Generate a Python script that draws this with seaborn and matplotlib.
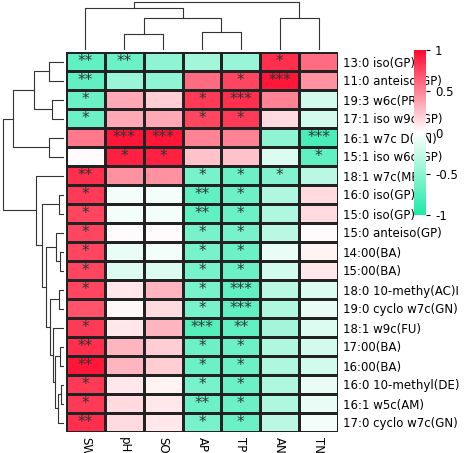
import numpy as np
import pandas as pd
import matplotlib
matplotlib.use("Agg")
import matplotlib.pyplot as plt
import seaborn as sns
from matplotlib.colors import LinearSegmentedColormap

rows = ["13:0 iso(GP)", "11:0 anteiso(GP)", "19:3 w6c(PR)", "17:1 iso w9c(GP)",
        "16:1 w7c D(GN)", "15:1 iso w6c(GP)", "18:1 w7c(ME)", "16:0 iso(GP)",
        "15:0 iso(GP)", "15:0 anteiso(GP)", "14:00(BA)", "15:00(BA)",
        "18:0 10-methy(AC)I", "19:0 cyclo w7c(GN)", "18:1 w9c(FU)", "17:00(BA)",
        "16:00(BA)", "16:0 10-methyl(DE)", "16:1 w5c(AM)", "17:0 cyclo w7c(GN)"]
cols = ["SWC", "pH", "SOC", "AP", "TP", "AN", "TN"]

vals = [
    [-0.7, -0.65, -0.5, -0.4, -0.45, 0.85, 0.6],
    [-0.7, -0.45, -0.5, 0.6, 0.75, 0.95, 0.45],
    [-0.65, 0.35, 0.2, 0.8, 0.85, 0.5, -0.2],
    [-0.65, 0.35, 0.35, 0.75, 0.8, 0.15, -0.2],
    [0.55, 0.95, 0.95, 0.5, 0.5, -0.5, -0.8],
    [0.02, 0.9, 0.9, 0.25, 0.25, -0.15, -0.7],
    [0.85, 0.45, 0.45, -0.6, -0.65, -0.55, -0.3],
    [0.8, -0.05, -0.05, -0.7, -0.65, -0.35, 0.15],
    [0.75, -0.05, -0.05, -0.7, -0.65, -0.35, 0.15],
    [0.75, 0.02, 0.02, -0.6, -0.6, -0.3, 0.02],
    [0.75, -0.1, -0.05, -0.6, -0.65, -0.1, 0.05],
    [0.75, -0.15, -0.15, -0.6, -0.65, -0.2, 0.1],
    [0.75, 0.1, 0.3, -0.6, -0.7, -0.3, -0.15],
    [0.7, 0.03, 0.15, -0.6, -0.7, -0.35, -0.1],
    [0.8, 0.1, 0.3, -0.75, -0.7, -0.4, -0.15],
    [0.85, 0.3, 0.2, -0.65, -0.65, -0.35, -0.2],
    [0.95, 0.3, 0.2, -0.65, -0.65, -0.35, -0.2],
    [0.8, 0.1, 0.05, -0.6, -0.65, -0.35, -0.1],
    [0.8, 0.15, 0.1, -0.65, -0.65, -0.35, -0.1],
    [0.85, 0.15, 0.1, -0.6, -0.65, -0.3, -0.05],
]

stars = [
    ["**", "**", "", "", "", "*", ""],
    ["**", "", "", "", "*", "***", ""],
    ["*", "", "", "*", "***", "", ""],
    ["*", "", "", "*", "*", "", ""],
    ["", "***", "***", "", "", "", "***"],
    ["", "*", "*", "", "", "", "*"],
    ["**", "", "", "*", "*", "*", ""],
    ["*", "", "", "**", "*", "", ""],
    ["*", "", "", "**", "*", "", ""],
    ["*", "", "", "*", "*", "", ""],
    ["*", "", "", "*", "*", "", ""],
    ["*", "", "", "*", "*", "", ""],
    ["*", "", "", "*", "***", "", ""],
    ["", "", "", "*", "***", "", ""],
    ["*", "", "", "***", "**", "", ""],
    ["**", "", "", "*", "*", "", ""],
    ["**", "", "", "*", "*", "", ""],
    ["*", "", "", "*", "*", "", ""],
    ["*", "", "", "**", "*", "", ""],
    ["**", "", "", "*", "*", "", ""],
]

# cluster trees: (left, right, height); leaves are row/column indices
top_a = ((0, 1, 1.5), (2, 3, 1.2), 3.0)
top = (top_a, (4, 5, 1.5), 5.0)
b1 = (7, 8, 0.5)
b2 = (9, (10, 11, 0.4), 0.8)
b3 = ((17, 18, 0.3), 19, 0.6)
b4 = ((15, 16, 0.4), b3, 0.9)
b5 = (14, b4, 1.1)
b6 = ((12, 13, 0.5), b5, 1.4)
b7 = (b2, b6, 1.8)
b8 = (b1, b7, 2.2)
bottom = (6, b8, 2.8)
row_tree = (top, bottom, 6.0)

col_inner = ((1, 2, 1.0), (3, 4, 1.1), 2.0)
col_tree = ((0, col_inner, 2.6), (5, 6, 2.0), 3.0)

df = pd.DataFrame(vals, index=rows, columns=cols)
cmap = LinearSegmentedColormap.from_list("gwr", ["#1de9a6", "#ffffff", "#ff0a2e"])

fig = plt.figure(figsize=(4.74, 4.53), dpi=100)
ax = fig.add_axes([66 / 474, 21 / 453, 272 / 474, 380 / 453])
cax = fig.add_axes([414 / 474, 238 / 453, 12 / 474, 165 / 453])
rax = fig.add_axes([0, 21 / 453, 64 / 474, 380 / 453])
tax = fig.add_axes([66 / 474, 403 / 453, 272 / 474, 50 / 453])

sns.heatmap(df, ax=ax, cmap=cmap, vmin=-1, vmax=1, annot=np.array(stars), fmt="",
            annot_kws={"color": "#333333", "fontsize": 11, "va": "center"},
            linewidths=0.8, linecolor="#222222", cbar_ax=cax)
ax.yaxis.tick_right()
ax.set_yticklabels(rows, rotation=0, fontsize=8.5)
ax.set_xticklabels(cols, rotation=270, fontsize=8.5)
ax.tick_params(length=0)
cax.set_yticks([1, 0.5, 0, -0.5, -1])
cax.set_yticklabels(["1", "0.5", "0", "-0.5", "-1"], fontsize=8.5)
cax.tick_params(length=3)


def draw(tree, axd, horiz):
    if isinstance(tree, int):
        return tree + 0.5, 0.0
    a, b, h = tree
    pa, ha = draw(a, axd, horiz)
    pb, hb = draw(b, axd, horiz)
    if horiz:
        axd.plot([ha, h, h, hb], [pa, pa, pb, pb], color="#333333", lw=0.8)
    else:
        axd.plot([pa, pa, pb, pb], [ha, h, h, hb], color="#333333", lw=0.8)
    return (pa + pb) / 2, h


draw(row_tree, rax, True)
rax.set_ylim(len(rows), 0)
rax.set_xlim(6.3, 0)
rax.axis("off")
draw(col_tree, tax, False)
tax.set_xlim(0, len(cols))
tax.set_ylim(0, 3.1)
tax.axis("off")

fig.savefig("out.png", dpi=100)
